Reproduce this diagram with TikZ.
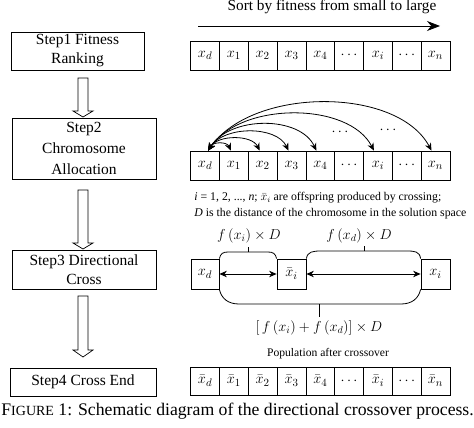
\documentclass[tikz,border=0pt]{standalone}
\usepackage{fontspec}
\setmainfont{Liberation Serif}
\usetikzlibrary{arrows.meta,calc}
\begin{document}
\begin{tikzpicture}[x=1pt,y=-1pt,
  line width=0.8pt,
  stepbox/.style={draw, inner sep=0pt, align=center, font=\fontsize{15.5}{19}\selectfont},
  cell/.style={draw, minimum width=28.8pt, minimum height=29pt, inner sep=0pt, font=\fontsize{15}{18}\selectfont},
  mlabel/.style={inner sep=0pt, font=\fontsize{14}{16}\selectfont},
  note/.style={inner sep=0pt, font=\fontsize{11.8}{13}\selectfont},
  dtip/.style={{Stealth[length=7.5pt,width=6.5pt]}-{Stealth[length=7.5pt,width=6.5pt]}},
  hollow/.style={draw, line width=0.7pt}
]
\useasboundingbox (0,0) rectangle (474,428);

% left column: steps
\node[stepbox, minimum width=133pt, minimum height=38pt] (s1) at (77.5,51) {Step1 Fitness\\Ranking};
\node[stepbox, minimum width=144pt, minimum height=61pt, font=\fontsize{15.5}{21}\selectfont] (s2) at (84,148.5) {Step2\\Chromosome\\Allocation};
\node[stepbox, minimum width=144pt, minimum height=39pt] (s3) at (84,269.5) {Step3 Directional\\Cross};
\node[stepbox, minimum width=146pt, minimum height=28pt] (s4) at (83,382) {Step4 Cross End};

% hollow arrows
\draw[hollow] (78,78) -- (78,111) -- (73,111) -- (83,117) -- (93,111) -- (88,111) -- (88,78) -- cycle;
\draw[hollow] (78,190) -- (78,243) -- (73,243) -- (83,249) -- (93,243) -- (88,243) -- (88,190) -- cycle;
\draw[hollow] (78,296) -- (78,350) -- (73,350) -- (83,357) -- (93,350) -- (88,350) -- (88,296) -- cycle;

% sort arrow
\node[inner sep=0pt, font=\fontsize{15.3}{17}\selectfont] (sort) at (332,7) {Sort by fitness from small to large};
\coordinate (sa) at (198,26);
\coordinate (sb) at (440,26);
\draw[-{Stealth[length=13pt,width=10pt]}] (sa) -- (sb);

% row 1
\foreach \t [count=\k from 0] in {x_d,x_1,x_2,x_3,x_4,\cdots,x_i,\cdots,x_n}
  \node[cell] (a\k) at (205.1+\k*28.8,55.5) {$\t$};

% row 2
\foreach \t [count=\k from 0] in {x_d,x_1,x_2,x_3,x_4,\cdots,x_i,\cdots,x_n}
  \node[cell] (b\k) at (205.1+\k*28.8,165.5) {$\t$};

\coordinate (st) at ($(b0.north)+(3,0)$);
\draw[dtip] (st) .. controls +(5,-9) and +(-4,-9) .. ($(b1.north)+(-3,0)$);
\draw[dtip] (st) .. controls +(10,-16) and +(-8,-16) .. ($(b2.north)+(-3,0)$);
\draw[dtip] (st) .. controls +(16,-25) and +(-12,-25) .. ($(b3.north)+(-3,0)$);
\draw[dtip] (st) .. controls +(22,-35) and +(-16,-35) .. ($(b4.north)+(-4,0)$);
\draw[dtip] (st) .. controls +(33,-49) and +(-25,-49) .. ($(b6.north)+(-4,0)$);
\draw[dtip] (st) .. controls +(45,-64) and +(-34,-64) .. ($(b8.north)+(-4,0)$);
\node[mlabel] (d1) at (340,132) {$\cdots$};
\node[mlabel] (d2) at (388,130) {$\cdots$};

% notes
\node[note, anchor=base west] (n1) at (194,200.5) {\textit{i} = 1, 2, ..., \textit{n}; $\bar{x}_i$ are offspring produced by crossing;};
\node[note, anchor=base west] (n2) at (194,216) {\textit{D} is the distance of the chromosome in the solution space};

% row 3 (directional cross)
\node[cell, minimum width=28pt, minimum height=30pt] (xd) at (205,274) {$x_d$};
\node[cell, minimum width=29pt, minimum height=30pt] (xb) at (291.5,274) {$\bar{x}_i$};
\node[cell, minimum width=29pt, minimum height=30pt] (xi) at (435.5,274) {$x_i$};
\draw[dtip] (xd.east) -- (xb.west);
\draw[dtip] (xb.east) -- (xi.west);

\draw (xd.north east) .. controls +(1,-5) and +(-5,0) .. (228,252) -- (268,252) .. controls +(5,0) and +(-1,-5) .. (xb.north west);
\draw (248,252) -- (248,247);
\node[mlabel] (l1) at (249,236) {$f\,(x_i)\times D$};

\draw (xb.north east) .. controls +(1,-7) and +(-8,0) .. (321,251) -- (407,251) .. controls +(8,0) and +(-1,-7) .. (xi.north west);
\draw (364,251) -- (364,246);
\node[mlabel] (l2) at (359,236) {$f\,(x_d)\times D$};

\draw (xd.south east) .. controls +(2,9) and +(-11,0) .. (239,304) -- (401,304) .. controls +(11,0) and +(-2,9) .. (xi.south west);
\draw (319,304) -- (319,317);
\node[mlabel] (l3) at (319,328) {$[\,f\,(x_i)+f\,(x_d)]\times D$};

\node[inner sep=0pt, font=\fontsize{11.6}{13}\selectfont] (pop) at (328,354) {Population after crossover};

% row 4
\foreach \t [count=\k from 0] in {\bar{x}_d,\bar{x}_1,\bar{x}_2,\bar{x}_3,\bar{x}_4,\cdots,\bar{x}_i,\cdots,\bar{x}_n}
  \node[cell, minimum height=28pt] (c\k) at (205.1+\k*28.8,381) {$\t$};

% caption
\node[inner sep=0pt, anchor=base west] (cap) at (1,415) {{\fontsize{17.7}{20}\selectfont F}{\fontsize{14}{20}\selectfont IGURE}{\fontsize{17.7}{20}\selectfont\ 1: Schematic diagram of the directional crossover process.}};
\end{tikzpicture}
\end{document}
